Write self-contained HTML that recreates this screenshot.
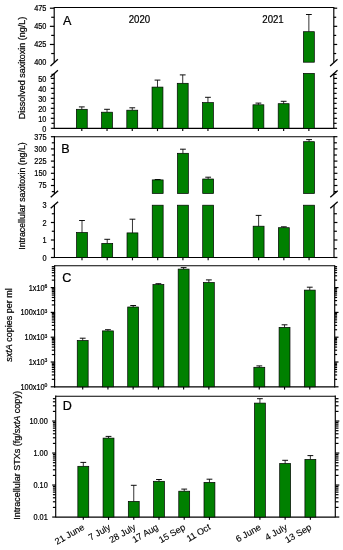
<!DOCTYPE html>
<html><head><meta charset="utf-8"><title>Figure</title>
<style>
html,body{margin:0;padding:0;background:#fff;}
svg{display:block;font-family:"Liberation Sans",sans-serif;fill:#111;}
svg text{fill:#000;stroke:#000;stroke-width:0.22px;}
</style></head><body>
<svg width="343" height="550" viewBox="0 0 343 550">
<rect x="0" y="0" width="343" height="550" fill="#ffffff"/>
<g transform="translate(0 0)">
<line x1="54.20" y1="7.45" x2="333.80" y2="7.45" stroke="#000" stroke-width="1.15"/>
<line x1="54.20" y1="128.30" x2="333.80" y2="128.30" stroke="#000" stroke-width="1.15"/>
<line x1="54.20" y1="6.88" x2="54.20" y2="62.60" stroke="#000" stroke-width="1.15"/>
<line x1="54.20" y1="73.40" x2="54.20" y2="128.88" stroke="#000" stroke-width="1.15"/>
<line x1="50.50" y1="65.90" x2="57.90" y2="59.30" stroke="#000" stroke-width="1.3"/>
<line x1="50.50" y1="76.90" x2="57.90" y2="70.30" stroke="#000" stroke-width="1.3"/>
<line x1="333.80" y1="6.88" x2="333.80" y2="62.60" stroke="#000" stroke-width="1.15"/>
<line x1="333.80" y1="73.40" x2="333.80" y2="128.88" stroke="#000" stroke-width="1.15"/>
<line x1="330.10" y1="65.90" x2="337.50" y2="59.30" stroke="#000" stroke-width="1.3"/>
<line x1="330.10" y1="76.90" x2="337.50" y2="70.30" stroke="#000" stroke-width="1.3"/>
<line x1="49.90" y1="8.20" x2="54.20" y2="8.20" stroke="#000" stroke-width="1.2"/>
<line x1="333.80" y1="8.20" x2="337.20" y2="8.20" stroke="#000" stroke-width="1.2"/>
<line x1="49.90" y1="26.33" x2="54.20" y2="26.33" stroke="#000" stroke-width="1.2"/>
<line x1="333.80" y1="26.33" x2="337.20" y2="26.33" stroke="#000" stroke-width="1.2"/>
<line x1="49.90" y1="44.47" x2="54.20" y2="44.47" stroke="#000" stroke-width="1.2"/>
<line x1="333.80" y1="44.47" x2="337.20" y2="44.47" stroke="#000" stroke-width="1.2"/>
<line x1="51.20" y1="17.27" x2="54.20" y2="17.27" stroke="#000" stroke-width="1.2"/>
<line x1="333.80" y1="17.27" x2="336.20" y2="17.27" stroke="#000" stroke-width="1.2"/>
<line x1="51.20" y1="35.40" x2="54.20" y2="35.40" stroke="#000" stroke-width="1.2"/>
<line x1="333.80" y1="35.40" x2="336.20" y2="35.40" stroke="#000" stroke-width="1.2"/>
<line x1="51.20" y1="53.53" x2="54.20" y2="53.53" stroke="#000" stroke-width="1.2"/>
<line x1="333.80" y1="53.53" x2="336.20" y2="53.53" stroke="#000" stroke-width="1.2"/>
<line x1="50.80" y1="128.30" x2="54.20" y2="128.30" stroke="#000" stroke-width="1.2"/>
<line x1="333.80" y1="128.30" x2="337.10" y2="128.30" stroke="#000" stroke-width="1.2"/>
<line x1="50.80" y1="118.32" x2="54.20" y2="118.32" stroke="#000" stroke-width="1.2"/>
<line x1="333.80" y1="118.32" x2="337.10" y2="118.32" stroke="#000" stroke-width="1.2"/>
<line x1="50.80" y1="108.34" x2="54.20" y2="108.34" stroke="#000" stroke-width="1.2"/>
<line x1="333.80" y1="108.34" x2="337.10" y2="108.34" stroke="#000" stroke-width="1.2"/>
<line x1="50.80" y1="98.35" x2="54.20" y2="98.35" stroke="#000" stroke-width="1.2"/>
<line x1="333.80" y1="98.35" x2="337.10" y2="98.35" stroke="#000" stroke-width="1.2"/>
<line x1="50.80" y1="88.37" x2="54.20" y2="88.37" stroke="#000" stroke-width="1.2"/>
<line x1="333.80" y1="88.37" x2="337.10" y2="88.37" stroke="#000" stroke-width="1.2"/>
<line x1="50.80" y1="78.39" x2="54.20" y2="78.39" stroke="#000" stroke-width="1.2"/>
<line x1="333.80" y1="78.39" x2="337.10" y2="78.39" stroke="#000" stroke-width="1.2"/>
<line x1="51.50" y1="123.31" x2="54.20" y2="123.31" stroke="#000" stroke-width="1.2"/>
<line x1="333.80" y1="123.31" x2="336.60" y2="123.31" stroke="#000" stroke-width="1.2"/>
<line x1="51.50" y1="113.33" x2="54.20" y2="113.33" stroke="#000" stroke-width="1.2"/>
<line x1="333.80" y1="113.33" x2="336.60" y2="113.33" stroke="#000" stroke-width="1.2"/>
<line x1="51.50" y1="103.35" x2="54.20" y2="103.35" stroke="#000" stroke-width="1.2"/>
<line x1="333.80" y1="103.35" x2="336.60" y2="103.35" stroke="#000" stroke-width="1.2"/>
<line x1="51.50" y1="93.36" x2="54.20" y2="93.36" stroke="#000" stroke-width="1.2"/>
<line x1="333.80" y1="93.36" x2="336.60" y2="93.36" stroke="#000" stroke-width="1.2"/>
<line x1="51.50" y1="83.38" x2="54.20" y2="83.38" stroke="#000" stroke-width="1.2"/>
<line x1="333.80" y1="83.38" x2="336.60" y2="83.38" stroke="#000" stroke-width="1.2"/>
<line x1="51.50" y1="74.40" x2="54.20" y2="74.40" stroke="#000" stroke-width="1.2"/>
<line x1="333.80" y1="74.40" x2="336.60" y2="74.40" stroke="#000" stroke-width="1.2"/>
<text transform="translate(46.40,11.12) scale(0.9,1)" font-size="8.17" text-anchor="end">475</text>
<text transform="translate(46.40,29.26) scale(0.9,1)" font-size="8.17" text-anchor="end">450</text>
<text transform="translate(46.40,47.39) scale(0.9,1)" font-size="8.17" text-anchor="end">425</text>
<text transform="translate(46.40,65.12) scale(0.9,1)" font-size="8.17" text-anchor="end">400</text>
<text transform="translate(46.40,131.62) scale(0.9,1)" font-size="8.17" text-anchor="end">0</text>
<text transform="translate(46.40,121.64) scale(0.9,1)" font-size="8.17" text-anchor="end">10</text>
<text transform="translate(46.40,111.66) scale(0.9,1)" font-size="8.17" text-anchor="end">20</text>
<text transform="translate(46.40,101.68) scale(0.9,1)" font-size="8.17" text-anchor="end">30</text>
<text transform="translate(46.40,91.70) scale(0.9,1)" font-size="8.17" text-anchor="end">40</text>
<text transform="translate(46.40,81.71) scale(0.9,1)" font-size="8.17" text-anchor="end">50</text>
<line x1="81.80" y1="128.30" x2="81.80" y2="131.10" stroke="#000" stroke-width="1.15"/>
<line x1="107.03" y1="128.30" x2="107.03" y2="131.10" stroke="#000" stroke-width="1.15"/>
<line x1="132.26" y1="128.30" x2="132.26" y2="131.10" stroke="#000" stroke-width="1.15"/>
<line x1="157.49" y1="128.30" x2="157.49" y2="131.10" stroke="#000" stroke-width="1.15"/>
<line x1="182.72" y1="128.30" x2="182.72" y2="131.10" stroke="#000" stroke-width="1.15"/>
<line x1="207.95" y1="128.30" x2="207.95" y2="131.10" stroke="#000" stroke-width="1.15"/>
<line x1="258.41" y1="128.30" x2="258.41" y2="131.10" stroke="#000" stroke-width="1.15"/>
<line x1="283.64" y1="128.30" x2="283.64" y2="131.10" stroke="#000" stroke-width="1.15"/>
<line x1="308.87" y1="128.30" x2="308.87" y2="131.10" stroke="#000" stroke-width="1.15"/>
<line x1="81.80" y1="109.30" x2="81.80" y2="106.90" stroke="#000" stroke-width="0.8"/>
<line x1="78.90" y1="106.90" x2="84.70" y2="106.90" stroke="#000" stroke-width="0.95"/>
<rect x="76.35" y="109.30" width="10.90" height="19.00" fill="#008000" stroke="#000" stroke-width="0.7"/>
<line x1="107.03" y1="112.20" x2="107.03" y2="109.30" stroke="#000" stroke-width="0.8"/>
<line x1="104.13" y1="109.30" x2="109.93" y2="109.30" stroke="#000" stroke-width="0.95"/>
<rect x="101.58" y="112.20" width="10.90" height="16.10" fill="#008000" stroke="#000" stroke-width="0.7"/>
<line x1="132.26" y1="110.20" x2="132.26" y2="107.80" stroke="#000" stroke-width="0.8"/>
<line x1="129.36" y1="107.80" x2="135.16" y2="107.80" stroke="#000" stroke-width="0.95"/>
<rect x="126.81" y="110.20" width="10.90" height="18.10" fill="#008000" stroke="#000" stroke-width="0.7"/>
<line x1="157.49" y1="87.10" x2="157.49" y2="80.10" stroke="#000" stroke-width="0.8"/>
<line x1="154.59" y1="80.10" x2="160.39" y2="80.10" stroke="#000" stroke-width="0.95"/>
<rect x="152.04" y="87.10" width="10.90" height="41.20" fill="#008000" stroke="#000" stroke-width="0.7"/>
<line x1="182.72" y1="83.30" x2="182.72" y2="74.90" stroke="#000" stroke-width="0.8"/>
<line x1="179.82" y1="74.90" x2="185.62" y2="74.90" stroke="#000" stroke-width="0.95"/>
<rect x="177.27" y="83.30" width="10.90" height="45.00" fill="#008000" stroke="#000" stroke-width="0.7"/>
<line x1="207.95" y1="102.60" x2="207.95" y2="97.30" stroke="#000" stroke-width="0.8"/>
<line x1="205.05" y1="97.30" x2="210.85" y2="97.30" stroke="#000" stroke-width="0.95"/>
<rect x="202.50" y="102.60" width="10.90" height="25.70" fill="#008000" stroke="#000" stroke-width="0.7"/>
<line x1="258.41" y1="104.80" x2="258.41" y2="103.10" stroke="#000" stroke-width="0.8"/>
<line x1="255.51" y1="103.10" x2="261.31" y2="103.10" stroke="#000" stroke-width="0.95"/>
<rect x="252.96" y="104.80" width="10.90" height="23.50" fill="#008000" stroke="#000" stroke-width="0.7"/>
<line x1="283.64" y1="103.70" x2="283.64" y2="101.30" stroke="#000" stroke-width="0.8"/>
<line x1="280.74" y1="101.30" x2="286.54" y2="101.30" stroke="#000" stroke-width="0.95"/>
<rect x="278.19" y="103.70" width="10.90" height="24.60" fill="#008000" stroke="#000" stroke-width="0.7"/>
<line x1="308.87" y1="31.70" x2="308.87" y2="14.50" stroke="#000" stroke-width="0.8"/>
<line x1="305.97" y1="14.50" x2="311.77" y2="14.50" stroke="#000" stroke-width="0.95"/>
<rect x="303.42" y="31.70" width="10.90" height="30.50" fill="#008000" stroke="#000" stroke-width="0.7"/>
<rect x="303.42" y="73.40" width="10.90" height="54.90" fill="#008000" stroke="#000" stroke-width="0.7"/>
</g>
<text x="63.10" y="24.60" font-size="12.6" text-anchor="start">A</text>
<text transform="translate(139.4,23.0) scale(0.91,1)" font-size="10.6" text-anchor="middle">2020</text>
<text transform="translate(273.0,23.0) scale(0.91,1)" font-size="10.6" text-anchor="middle">2021</text>
<text transform="translate(25.00,68.00) rotate(-90)" font-size="9.0" text-anchor="middle">Dissolved saxitoxin (ng/L)</text>
<g transform="translate(0.2 0)">
<line x1="54.20" y1="136.70" x2="333.80" y2="136.70" stroke="#000" stroke-width="1.15"/>
<line x1="54.20" y1="257.50" x2="333.80" y2="257.50" stroke="#000" stroke-width="1.15"/>
<line x1="54.20" y1="136.12" x2="54.20" y2="194.00" stroke="#000" stroke-width="1.15"/>
<line x1="54.20" y1="205.00" x2="54.20" y2="258.07" stroke="#000" stroke-width="1.15"/>
<line x1="50.50" y1="197.30" x2="57.90" y2="190.70" stroke="#000" stroke-width="1.3"/>
<line x1="50.50" y1="208.30" x2="57.90" y2="201.70" stroke="#000" stroke-width="1.3"/>
<line x1="333.80" y1="136.12" x2="333.80" y2="194.00" stroke="#000" stroke-width="1.15"/>
<line x1="333.80" y1="205.00" x2="333.80" y2="258.07" stroke="#000" stroke-width="1.15"/>
<line x1="330.10" y1="197.30" x2="337.50" y2="190.70" stroke="#000" stroke-width="1.3"/>
<line x1="330.10" y1="208.30" x2="337.50" y2="201.70" stroke="#000" stroke-width="1.3"/>
<line x1="50.70" y1="136.70" x2="54.20" y2="136.70" stroke="#000" stroke-width="1.2"/>
<line x1="333.80" y1="136.70" x2="337.20" y2="136.70" stroke="#000" stroke-width="1.2"/>
<line x1="50.70" y1="148.90" x2="54.20" y2="148.90" stroke="#000" stroke-width="1.2"/>
<line x1="333.80" y1="148.90" x2="337.20" y2="148.90" stroke="#000" stroke-width="1.2"/>
<line x1="50.70" y1="161.10" x2="54.20" y2="161.10" stroke="#000" stroke-width="1.2"/>
<line x1="333.80" y1="161.10" x2="337.20" y2="161.10" stroke="#000" stroke-width="1.2"/>
<line x1="50.70" y1="173.30" x2="54.20" y2="173.30" stroke="#000" stroke-width="1.2"/>
<line x1="333.80" y1="173.30" x2="337.20" y2="173.30" stroke="#000" stroke-width="1.2"/>
<line x1="50.70" y1="185.50" x2="54.20" y2="185.50" stroke="#000" stroke-width="1.2"/>
<line x1="333.80" y1="185.50" x2="337.20" y2="185.50" stroke="#000" stroke-width="1.2"/>
<line x1="50.70" y1="257.50" x2="54.20" y2="257.50" stroke="#000" stroke-width="1.2"/>
<line x1="333.80" y1="257.50" x2="337.20" y2="257.50" stroke="#000" stroke-width="1.2"/>
<line x1="50.70" y1="240.00" x2="54.20" y2="240.00" stroke="#000" stroke-width="1.2"/>
<line x1="333.80" y1="240.00" x2="337.20" y2="240.00" stroke="#000" stroke-width="1.2"/>
<line x1="50.70" y1="222.50" x2="54.20" y2="222.50" stroke="#000" stroke-width="1.2"/>
<line x1="333.80" y1="222.50" x2="337.20" y2="222.50" stroke="#000" stroke-width="1.2"/>
<line x1="51.60" y1="142.80" x2="54.20" y2="142.80" stroke="#000" stroke-width="1.2"/>
<line x1="333.80" y1="142.80" x2="336.70" y2="142.80" stroke="#000" stroke-width="1.2"/>
<line x1="51.60" y1="155.00" x2="54.20" y2="155.00" stroke="#000" stroke-width="1.2"/>
<line x1="333.80" y1="155.00" x2="336.70" y2="155.00" stroke="#000" stroke-width="1.2"/>
<line x1="51.60" y1="167.20" x2="54.20" y2="167.20" stroke="#000" stroke-width="1.2"/>
<line x1="333.80" y1="167.20" x2="336.70" y2="167.20" stroke="#000" stroke-width="1.2"/>
<line x1="51.60" y1="179.40" x2="54.20" y2="179.40" stroke="#000" stroke-width="1.2"/>
<line x1="333.80" y1="179.40" x2="336.70" y2="179.40" stroke="#000" stroke-width="1.2"/>
<line x1="51.60" y1="191.60" x2="54.20" y2="191.60" stroke="#000" stroke-width="1.2"/>
<line x1="333.80" y1="191.60" x2="336.70" y2="191.60" stroke="#000" stroke-width="1.2"/>
<line x1="51.60" y1="248.75" x2="54.20" y2="248.75" stroke="#000" stroke-width="1.2"/>
<line x1="333.80" y1="248.75" x2="336.70" y2="248.75" stroke="#000" stroke-width="1.2"/>
<line x1="51.60" y1="231.25" x2="54.20" y2="231.25" stroke="#000" stroke-width="1.2"/>
<line x1="333.80" y1="231.25" x2="336.70" y2="231.25" stroke="#000" stroke-width="1.2"/>
<line x1="51.60" y1="213.75" x2="54.20" y2="213.75" stroke="#000" stroke-width="1.2"/>
<line x1="333.80" y1="213.75" x2="336.70" y2="213.75" stroke="#000" stroke-width="1.2"/>
<text transform="translate(46.40,139.62) scale(0.9,1)" font-size="8.17" text-anchor="end">375</text>
<text transform="translate(46.40,151.82) scale(0.9,1)" font-size="8.17" text-anchor="end">300</text>
<text transform="translate(46.40,164.02) scale(0.9,1)" font-size="8.17" text-anchor="end">225</text>
<text transform="translate(46.40,176.22) scale(0.9,1)" font-size="8.17" text-anchor="end">150</text>
<text transform="translate(46.40,188.42) scale(0.9,1)" font-size="8.17" text-anchor="end">75</text>
<text transform="translate(46.40,260.82) scale(0.9,1)" font-size="8.17" text-anchor="end">0</text>
<text transform="translate(46.40,243.32) scale(0.9,1)" font-size="8.17" text-anchor="end">1</text>
<text transform="translate(46.40,225.82) scale(0.9,1)" font-size="8.17" text-anchor="end">2</text>
<text transform="translate(46.40,208.32) scale(0.9,1)" font-size="8.17" text-anchor="end">3</text>
<line x1="81.80" y1="257.50" x2="81.80" y2="260.30" stroke="#000" stroke-width="1.15"/>
<line x1="107.03" y1="257.50" x2="107.03" y2="260.30" stroke="#000" stroke-width="1.15"/>
<line x1="132.26" y1="257.50" x2="132.26" y2="260.30" stroke="#000" stroke-width="1.15"/>
<line x1="157.49" y1="257.50" x2="157.49" y2="260.30" stroke="#000" stroke-width="1.15"/>
<line x1="182.72" y1="257.50" x2="182.72" y2="260.30" stroke="#000" stroke-width="1.15"/>
<line x1="207.95" y1="257.50" x2="207.95" y2="260.30" stroke="#000" stroke-width="1.15"/>
<line x1="258.41" y1="257.50" x2="258.41" y2="260.30" stroke="#000" stroke-width="1.15"/>
<line x1="283.64" y1="257.50" x2="283.64" y2="260.30" stroke="#000" stroke-width="1.15"/>
<line x1="308.87" y1="257.50" x2="308.87" y2="260.30" stroke="#000" stroke-width="1.15"/>
<line x1="81.80" y1="232.50" x2="81.80" y2="220.50" stroke="#000" stroke-width="0.8"/>
<line x1="78.90" y1="220.50" x2="84.70" y2="220.50" stroke="#000" stroke-width="0.95"/>
<rect x="76.35" y="232.50" width="10.90" height="25.00" fill="#008000" stroke="#000" stroke-width="0.7"/>
<line x1="107.03" y1="243.40" x2="107.03" y2="239.30" stroke="#000" stroke-width="0.8"/>
<line x1="104.13" y1="239.30" x2="109.93" y2="239.30" stroke="#000" stroke-width="0.95"/>
<rect x="101.58" y="243.40" width="10.90" height="14.10" fill="#008000" stroke="#000" stroke-width="0.7"/>
<line x1="132.26" y1="232.90" x2="132.26" y2="219.20" stroke="#000" stroke-width="0.8"/>
<line x1="129.36" y1="219.20" x2="135.16" y2="219.20" stroke="#000" stroke-width="0.95"/>
<rect x="126.81" y="232.90" width="10.90" height="24.60" fill="#008000" stroke="#000" stroke-width="0.7"/>
<line x1="258.41" y1="226.20" x2="258.41" y2="215.40" stroke="#000" stroke-width="0.8"/>
<line x1="255.51" y1="215.40" x2="261.31" y2="215.40" stroke="#000" stroke-width="0.95"/>
<rect x="252.96" y="226.20" width="10.90" height="31.30" fill="#008000" stroke="#000" stroke-width="0.7"/>
<line x1="283.64" y1="227.70" x2="283.64" y2="226.80" stroke="#000" stroke-width="0.8"/>
<line x1="280.74" y1="226.80" x2="286.54" y2="226.80" stroke="#000" stroke-width="0.95"/>
<rect x="278.19" y="227.70" width="10.90" height="29.80" fill="#008000" stroke="#000" stroke-width="0.7"/>
<line x1="157.49" y1="179.90" x2="157.49" y2="179.50" stroke="#000" stroke-width="0.8"/>
<line x1="154.59" y1="179.50" x2="160.39" y2="179.50" stroke="#000" stroke-width="0.95"/>
<rect x="152.04" y="179.90" width="10.90" height="13.60" fill="#008000" stroke="#000" stroke-width="0.7"/>
<rect x="152.04" y="205.20" width="10.90" height="52.30" fill="#008000" stroke="#000" stroke-width="0.7"/>
<line x1="182.72" y1="153.30" x2="182.72" y2="149.20" stroke="#000" stroke-width="0.8"/>
<line x1="179.82" y1="149.20" x2="185.62" y2="149.20" stroke="#000" stroke-width="0.95"/>
<rect x="177.27" y="153.30" width="10.90" height="40.20" fill="#008000" stroke="#000" stroke-width="0.7"/>
<rect x="177.27" y="205.20" width="10.90" height="52.30" fill="#008000" stroke="#000" stroke-width="0.7"/>
<line x1="207.95" y1="179.00" x2="207.95" y2="177.20" stroke="#000" stroke-width="0.8"/>
<line x1="205.05" y1="177.20" x2="210.85" y2="177.20" stroke="#000" stroke-width="0.95"/>
<rect x="202.50" y="179.00" width="10.90" height="14.50" fill="#008000" stroke="#000" stroke-width="0.7"/>
<rect x="202.50" y="205.20" width="10.90" height="52.30" fill="#008000" stroke="#000" stroke-width="0.7"/>
<line x1="308.87" y1="141.70" x2="308.87" y2="139.60" stroke="#000" stroke-width="0.8"/>
<line x1="305.97" y1="139.60" x2="311.77" y2="139.60" stroke="#000" stroke-width="0.95"/>
<rect x="303.42" y="141.70" width="10.90" height="51.80" fill="#008000" stroke="#000" stroke-width="0.7"/>
<rect x="303.42" y="205.20" width="10.90" height="52.30" fill="#008000" stroke="#000" stroke-width="0.7"/>
</g>
<text x="61.30" y="152.80" font-size="12.6" text-anchor="start">B</text>
<text transform="translate(25.40,196.00) rotate(-90)" font-size="8.8" text-anchor="middle">Intracellular saxitoxin (ng/L)</text>
<g transform="translate(0.9 0)">
<line x1="53.70" y1="265.75" x2="333.80" y2="265.75" stroke="#000" stroke-width="1.15"/>
<line x1="53.70" y1="386.80" x2="333.80" y2="386.80" stroke="#000" stroke-width="1.15"/>
<line x1="53.70" y1="265.18" x2="53.70" y2="387.38" stroke="#000" stroke-width="1.15"/>
<line x1="333.80" y1="265.18" x2="333.80" y2="387.38" stroke="#000" stroke-width="1.15"/>
<line x1="49.80" y1="386.80" x2="54.20" y2="386.80" stroke="#000" stroke-width="1.2"/>
<line x1="333.80" y1="386.80" x2="337.60" y2="386.80" stroke="#000" stroke-width="1.2"/>
<line x1="49.80" y1="362.00" x2="54.20" y2="362.00" stroke="#000" stroke-width="1.2"/>
<line x1="333.80" y1="362.00" x2="337.60" y2="362.00" stroke="#000" stroke-width="1.2"/>
<line x1="49.80" y1="337.20" x2="54.20" y2="337.20" stroke="#000" stroke-width="1.2"/>
<line x1="333.80" y1="337.20" x2="337.60" y2="337.20" stroke="#000" stroke-width="1.2"/>
<line x1="49.80" y1="312.40" x2="54.20" y2="312.40" stroke="#000" stroke-width="1.2"/>
<line x1="333.80" y1="312.40" x2="337.60" y2="312.40" stroke="#000" stroke-width="1.2"/>
<line x1="49.80" y1="287.60" x2="54.20" y2="287.60" stroke="#000" stroke-width="1.2"/>
<line x1="333.80" y1="287.60" x2="337.60" y2="287.60" stroke="#000" stroke-width="1.2"/>
<line x1="50.90" y1="379.33" x2="54.20" y2="379.33" stroke="#000" stroke-width="1.2"/>
<line x1="333.80" y1="379.33" x2="336.20" y2="379.33" stroke="#000" stroke-width="1.2"/>
<line x1="50.90" y1="374.97" x2="54.20" y2="374.97" stroke="#000" stroke-width="1.2"/>
<line x1="333.80" y1="374.97" x2="336.20" y2="374.97" stroke="#000" stroke-width="1.2"/>
<line x1="50.90" y1="371.87" x2="54.20" y2="371.87" stroke="#000" stroke-width="1.2"/>
<line x1="333.80" y1="371.87" x2="336.20" y2="371.87" stroke="#000" stroke-width="1.2"/>
<line x1="50.90" y1="369.47" x2="54.20" y2="369.47" stroke="#000" stroke-width="1.2"/>
<line x1="333.80" y1="369.47" x2="336.20" y2="369.47" stroke="#000" stroke-width="1.2"/>
<line x1="50.90" y1="367.50" x2="54.20" y2="367.50" stroke="#000" stroke-width="1.2"/>
<line x1="333.80" y1="367.50" x2="336.20" y2="367.50" stroke="#000" stroke-width="1.2"/>
<line x1="50.90" y1="365.84" x2="54.20" y2="365.84" stroke="#000" stroke-width="1.2"/>
<line x1="333.80" y1="365.84" x2="336.20" y2="365.84" stroke="#000" stroke-width="1.2"/>
<line x1="50.90" y1="364.40" x2="54.20" y2="364.40" stroke="#000" stroke-width="1.2"/>
<line x1="333.80" y1="364.40" x2="336.20" y2="364.40" stroke="#000" stroke-width="1.2"/>
<line x1="50.90" y1="363.13" x2="54.20" y2="363.13" stroke="#000" stroke-width="1.2"/>
<line x1="333.80" y1="363.13" x2="336.20" y2="363.13" stroke="#000" stroke-width="1.2"/>
<line x1="50.90" y1="354.53" x2="54.20" y2="354.53" stroke="#000" stroke-width="1.2"/>
<line x1="333.80" y1="354.53" x2="336.20" y2="354.53" stroke="#000" stroke-width="1.2"/>
<line x1="50.90" y1="350.17" x2="54.20" y2="350.17" stroke="#000" stroke-width="1.2"/>
<line x1="333.80" y1="350.17" x2="336.20" y2="350.17" stroke="#000" stroke-width="1.2"/>
<line x1="50.90" y1="347.07" x2="54.20" y2="347.07" stroke="#000" stroke-width="1.2"/>
<line x1="333.80" y1="347.07" x2="336.20" y2="347.07" stroke="#000" stroke-width="1.2"/>
<line x1="50.90" y1="344.67" x2="54.20" y2="344.67" stroke="#000" stroke-width="1.2"/>
<line x1="333.80" y1="344.67" x2="336.20" y2="344.67" stroke="#000" stroke-width="1.2"/>
<line x1="50.90" y1="342.70" x2="54.20" y2="342.70" stroke="#000" stroke-width="1.2"/>
<line x1="333.80" y1="342.70" x2="336.20" y2="342.70" stroke="#000" stroke-width="1.2"/>
<line x1="50.90" y1="341.04" x2="54.20" y2="341.04" stroke="#000" stroke-width="1.2"/>
<line x1="333.80" y1="341.04" x2="336.20" y2="341.04" stroke="#000" stroke-width="1.2"/>
<line x1="50.90" y1="339.60" x2="54.20" y2="339.60" stroke="#000" stroke-width="1.2"/>
<line x1="333.80" y1="339.60" x2="336.20" y2="339.60" stroke="#000" stroke-width="1.2"/>
<line x1="50.90" y1="338.33" x2="54.20" y2="338.33" stroke="#000" stroke-width="1.2"/>
<line x1="333.80" y1="338.33" x2="336.20" y2="338.33" stroke="#000" stroke-width="1.2"/>
<line x1="50.90" y1="329.73" x2="54.20" y2="329.73" stroke="#000" stroke-width="1.2"/>
<line x1="333.80" y1="329.73" x2="336.20" y2="329.73" stroke="#000" stroke-width="1.2"/>
<line x1="50.90" y1="325.37" x2="54.20" y2="325.37" stroke="#000" stroke-width="1.2"/>
<line x1="333.80" y1="325.37" x2="336.20" y2="325.37" stroke="#000" stroke-width="1.2"/>
<line x1="50.90" y1="322.27" x2="54.20" y2="322.27" stroke="#000" stroke-width="1.2"/>
<line x1="333.80" y1="322.27" x2="336.20" y2="322.27" stroke="#000" stroke-width="1.2"/>
<line x1="50.90" y1="319.87" x2="54.20" y2="319.87" stroke="#000" stroke-width="1.2"/>
<line x1="333.80" y1="319.87" x2="336.20" y2="319.87" stroke="#000" stroke-width="1.2"/>
<line x1="50.90" y1="317.90" x2="54.20" y2="317.90" stroke="#000" stroke-width="1.2"/>
<line x1="333.80" y1="317.90" x2="336.20" y2="317.90" stroke="#000" stroke-width="1.2"/>
<line x1="50.90" y1="316.24" x2="54.20" y2="316.24" stroke="#000" stroke-width="1.2"/>
<line x1="333.80" y1="316.24" x2="336.20" y2="316.24" stroke="#000" stroke-width="1.2"/>
<line x1="50.90" y1="314.80" x2="54.20" y2="314.80" stroke="#000" stroke-width="1.2"/>
<line x1="333.80" y1="314.80" x2="336.20" y2="314.80" stroke="#000" stroke-width="1.2"/>
<line x1="50.90" y1="313.53" x2="54.20" y2="313.53" stroke="#000" stroke-width="1.2"/>
<line x1="333.80" y1="313.53" x2="336.20" y2="313.53" stroke="#000" stroke-width="1.2"/>
<line x1="50.90" y1="304.93" x2="54.20" y2="304.93" stroke="#000" stroke-width="1.2"/>
<line x1="333.80" y1="304.93" x2="336.20" y2="304.93" stroke="#000" stroke-width="1.2"/>
<line x1="50.90" y1="300.57" x2="54.20" y2="300.57" stroke="#000" stroke-width="1.2"/>
<line x1="333.80" y1="300.57" x2="336.20" y2="300.57" stroke="#000" stroke-width="1.2"/>
<line x1="50.90" y1="297.47" x2="54.20" y2="297.47" stroke="#000" stroke-width="1.2"/>
<line x1="333.80" y1="297.47" x2="336.20" y2="297.47" stroke="#000" stroke-width="1.2"/>
<line x1="50.90" y1="295.07" x2="54.20" y2="295.07" stroke="#000" stroke-width="1.2"/>
<line x1="333.80" y1="295.07" x2="336.20" y2="295.07" stroke="#000" stroke-width="1.2"/>
<line x1="50.90" y1="293.10" x2="54.20" y2="293.10" stroke="#000" stroke-width="1.2"/>
<line x1="333.80" y1="293.10" x2="336.20" y2="293.10" stroke="#000" stroke-width="1.2"/>
<line x1="50.90" y1="291.44" x2="54.20" y2="291.44" stroke="#000" stroke-width="1.2"/>
<line x1="333.80" y1="291.44" x2="336.20" y2="291.44" stroke="#000" stroke-width="1.2"/>
<line x1="50.90" y1="290.00" x2="54.20" y2="290.00" stroke="#000" stroke-width="1.2"/>
<line x1="333.80" y1="290.00" x2="336.20" y2="290.00" stroke="#000" stroke-width="1.2"/>
<line x1="50.90" y1="288.73" x2="54.20" y2="288.73" stroke="#000" stroke-width="1.2"/>
<line x1="333.80" y1="288.73" x2="336.20" y2="288.73" stroke="#000" stroke-width="1.2"/>
<line x1="50.90" y1="280.13" x2="54.20" y2="280.13" stroke="#000" stroke-width="1.2"/>
<line x1="333.80" y1="280.13" x2="336.20" y2="280.13" stroke="#000" stroke-width="1.2"/>
<line x1="50.90" y1="275.77" x2="54.20" y2="275.77" stroke="#000" stroke-width="1.2"/>
<line x1="333.80" y1="275.77" x2="336.20" y2="275.77" stroke="#000" stroke-width="1.2"/>
<line x1="50.90" y1="272.67" x2="54.20" y2="272.67" stroke="#000" stroke-width="1.2"/>
<line x1="333.80" y1="272.67" x2="336.20" y2="272.67" stroke="#000" stroke-width="1.2"/>
<line x1="50.90" y1="270.27" x2="54.20" y2="270.27" stroke="#000" stroke-width="1.2"/>
<line x1="333.80" y1="270.27" x2="336.20" y2="270.27" stroke="#000" stroke-width="1.2"/>
<line x1="50.90" y1="268.30" x2="54.20" y2="268.30" stroke="#000" stroke-width="1.2"/>
<line x1="333.80" y1="268.30" x2="336.20" y2="268.30" stroke="#000" stroke-width="1.2"/>
<line x1="50.90" y1="266.64" x2="54.20" y2="266.64" stroke="#000" stroke-width="1.2"/>
<line x1="333.80" y1="266.64" x2="336.20" y2="266.64" stroke="#000" stroke-width="1.2"/>
<text transform="translate(46.5,290.52) scale(0.9,1)" font-size="8.17" text-anchor="end">1x10<tspan font-size="5.6" dy="-2.6">6</tspan></text>
<text transform="translate(46.5,315.32) scale(0.9,1)" font-size="8.17" text-anchor="end">100x10<tspan font-size="5.6" dy="-2.6">3</tspan></text>
<text transform="translate(46.5,340.12) scale(0.9,1)" font-size="8.17" text-anchor="end">10x10<tspan font-size="5.6" dy="-2.6">3</tspan></text>
<text transform="translate(46.5,364.92) scale(0.9,1)" font-size="8.17" text-anchor="end">1x10<tspan font-size="5.6" dy="-2.6">3</tspan></text>
<text transform="translate(46.5,389.72) scale(0.9,1)" font-size="8.17" text-anchor="end">100x10<tspan font-size="5.6" dy="-2.6">0</tspan></text>
<line x1="81.80" y1="386.80" x2="81.80" y2="389.60" stroke="#000" stroke-width="1.15"/>
<line x1="107.03" y1="386.80" x2="107.03" y2="389.60" stroke="#000" stroke-width="1.15"/>
<line x1="132.26" y1="386.80" x2="132.26" y2="389.60" stroke="#000" stroke-width="1.15"/>
<line x1="157.49" y1="386.80" x2="157.49" y2="389.60" stroke="#000" stroke-width="1.15"/>
<line x1="182.72" y1="386.80" x2="182.72" y2="389.60" stroke="#000" stroke-width="1.15"/>
<line x1="207.95" y1="386.80" x2="207.95" y2="389.60" stroke="#000" stroke-width="1.15"/>
<line x1="258.41" y1="386.80" x2="258.41" y2="389.60" stroke="#000" stroke-width="1.15"/>
<line x1="283.64" y1="386.80" x2="283.64" y2="389.60" stroke="#000" stroke-width="1.15"/>
<line x1="308.87" y1="386.80" x2="308.87" y2="389.60" stroke="#000" stroke-width="1.15"/>
<line x1="81.80" y1="340.50" x2="81.80" y2="338.20" stroke="#000" stroke-width="0.8"/>
<line x1="78.90" y1="338.20" x2="84.70" y2="338.20" stroke="#000" stroke-width="0.95"/>
<rect x="76.35" y="340.50" width="10.90" height="46.30" fill="#008000" stroke="#000" stroke-width="0.7"/>
<line x1="107.03" y1="330.90" x2="107.03" y2="329.70" stroke="#000" stroke-width="0.8"/>
<line x1="104.13" y1="329.70" x2="109.93" y2="329.70" stroke="#000" stroke-width="0.95"/>
<rect x="101.58" y="330.90" width="10.90" height="55.90" fill="#008000" stroke="#000" stroke-width="0.7"/>
<line x1="132.26" y1="307.00" x2="132.26" y2="305.50" stroke="#000" stroke-width="0.8"/>
<line x1="129.36" y1="305.50" x2="135.16" y2="305.50" stroke="#000" stroke-width="0.95"/>
<rect x="126.81" y="307.00" width="10.90" height="79.80" fill="#008000" stroke="#000" stroke-width="0.7"/>
<line x1="157.49" y1="284.60" x2="157.49" y2="283.70" stroke="#000" stroke-width="0.8"/>
<line x1="154.59" y1="283.70" x2="160.39" y2="283.70" stroke="#000" stroke-width="0.95"/>
<rect x="152.04" y="284.60" width="10.90" height="102.20" fill="#008000" stroke="#000" stroke-width="0.7"/>
<line x1="182.72" y1="269.10" x2="182.72" y2="267.60" stroke="#000" stroke-width="0.8"/>
<line x1="179.82" y1="267.60" x2="185.62" y2="267.60" stroke="#000" stroke-width="0.95"/>
<rect x="177.27" y="269.10" width="10.90" height="117.70" fill="#008000" stroke="#000" stroke-width="0.7"/>
<line x1="207.95" y1="282.50" x2="207.95" y2="279.90" stroke="#000" stroke-width="0.8"/>
<line x1="205.05" y1="279.90" x2="210.85" y2="279.90" stroke="#000" stroke-width="0.95"/>
<rect x="202.50" y="282.50" width="10.90" height="104.30" fill="#008000" stroke="#000" stroke-width="0.7"/>
<line x1="258.41" y1="367.30" x2="258.41" y2="365.90" stroke="#000" stroke-width="0.8"/>
<line x1="255.51" y1="365.90" x2="261.31" y2="365.90" stroke="#000" stroke-width="0.95"/>
<rect x="252.96" y="367.30" width="10.90" height="19.50" fill="#008000" stroke="#000" stroke-width="0.7"/>
<line x1="283.64" y1="327.40" x2="283.64" y2="324.80" stroke="#000" stroke-width="0.8"/>
<line x1="280.74" y1="324.80" x2="286.54" y2="324.80" stroke="#000" stroke-width="0.95"/>
<rect x="278.19" y="327.40" width="10.90" height="59.40" fill="#008000" stroke="#000" stroke-width="0.7"/>
<line x1="308.87" y1="290.10" x2="308.87" y2="287.20" stroke="#000" stroke-width="0.8"/>
<line x1="305.97" y1="287.20" x2="311.77" y2="287.20" stroke="#000" stroke-width="0.95"/>
<rect x="303.42" y="290.10" width="10.90" height="96.70" fill="#008000" stroke="#000" stroke-width="0.7"/>
</g>
<text x="62.20" y="282.30" font-size="12.6" text-anchor="start">C</text>
<text transform="translate(12.40,325.00) rotate(-90)" font-size="9.0" text-anchor="middle"><tspan font-style="italic">sxtA</tspan> copies per ml</text>
<g transform="translate(1.5 0)">
<line x1="54.20" y1="396.20" x2="333.80" y2="396.20" stroke="#000" stroke-width="1.15"/>
<line x1="54.20" y1="517.05" x2="333.80" y2="517.05" stroke="#000" stroke-width="1.15"/>
<line x1="54.20" y1="395.62" x2="54.20" y2="517.62" stroke="#000" stroke-width="1.15"/>
<line x1="333.80" y1="395.62" x2="333.80" y2="517.62" stroke="#000" stroke-width="1.15"/>
<line x1="50.70" y1="517.05" x2="54.20" y2="517.05" stroke="#000" stroke-width="1.2"/>
<line x1="333.80" y1="517.05" x2="337.80" y2="517.05" stroke="#000" stroke-width="1.2"/>
<line x1="50.70" y1="485.05" x2="54.20" y2="485.05" stroke="#000" stroke-width="1.2"/>
<line x1="333.80" y1="485.05" x2="337.80" y2="485.05" stroke="#000" stroke-width="1.2"/>
<line x1="50.70" y1="453.05" x2="54.20" y2="453.05" stroke="#000" stroke-width="1.2"/>
<line x1="333.80" y1="453.05" x2="337.80" y2="453.05" stroke="#000" stroke-width="1.2"/>
<line x1="50.70" y1="421.05" x2="54.20" y2="421.05" stroke="#000" stroke-width="1.2"/>
<line x1="333.80" y1="421.05" x2="337.80" y2="421.05" stroke="#000" stroke-width="1.2"/>
<line x1="51.40" y1="507.42" x2="54.20" y2="507.42" stroke="#000" stroke-width="1.2"/>
<line x1="333.80" y1="507.42" x2="337.00" y2="507.42" stroke="#000" stroke-width="1.2"/>
<line x1="51.40" y1="501.78" x2="54.20" y2="501.78" stroke="#000" stroke-width="1.2"/>
<line x1="333.80" y1="501.78" x2="337.00" y2="501.78" stroke="#000" stroke-width="1.2"/>
<line x1="51.40" y1="497.78" x2="54.20" y2="497.78" stroke="#000" stroke-width="1.2"/>
<line x1="333.80" y1="497.78" x2="337.00" y2="497.78" stroke="#000" stroke-width="1.2"/>
<line x1="51.40" y1="494.68" x2="54.20" y2="494.68" stroke="#000" stroke-width="1.2"/>
<line x1="333.80" y1="494.68" x2="337.00" y2="494.68" stroke="#000" stroke-width="1.2"/>
<line x1="51.40" y1="492.15" x2="54.20" y2="492.15" stroke="#000" stroke-width="1.2"/>
<line x1="333.80" y1="492.15" x2="337.00" y2="492.15" stroke="#000" stroke-width="1.2"/>
<line x1="51.40" y1="490.01" x2="54.20" y2="490.01" stroke="#000" stroke-width="1.2"/>
<line x1="333.80" y1="490.01" x2="337.00" y2="490.01" stroke="#000" stroke-width="1.2"/>
<line x1="51.40" y1="488.15" x2="54.20" y2="488.15" stroke="#000" stroke-width="1.2"/>
<line x1="333.80" y1="488.15" x2="337.00" y2="488.15" stroke="#000" stroke-width="1.2"/>
<line x1="51.40" y1="486.51" x2="54.20" y2="486.51" stroke="#000" stroke-width="1.2"/>
<line x1="333.80" y1="486.51" x2="337.00" y2="486.51" stroke="#000" stroke-width="1.2"/>
<line x1="51.40" y1="475.42" x2="54.20" y2="475.42" stroke="#000" stroke-width="1.2"/>
<line x1="333.80" y1="475.42" x2="337.00" y2="475.42" stroke="#000" stroke-width="1.2"/>
<line x1="51.40" y1="469.78" x2="54.20" y2="469.78" stroke="#000" stroke-width="1.2"/>
<line x1="333.80" y1="469.78" x2="337.00" y2="469.78" stroke="#000" stroke-width="1.2"/>
<line x1="51.40" y1="465.78" x2="54.20" y2="465.78" stroke="#000" stroke-width="1.2"/>
<line x1="333.80" y1="465.78" x2="337.00" y2="465.78" stroke="#000" stroke-width="1.2"/>
<line x1="51.40" y1="462.68" x2="54.20" y2="462.68" stroke="#000" stroke-width="1.2"/>
<line x1="333.80" y1="462.68" x2="337.00" y2="462.68" stroke="#000" stroke-width="1.2"/>
<line x1="51.40" y1="460.15" x2="54.20" y2="460.15" stroke="#000" stroke-width="1.2"/>
<line x1="333.80" y1="460.15" x2="337.00" y2="460.15" stroke="#000" stroke-width="1.2"/>
<line x1="51.40" y1="458.01" x2="54.20" y2="458.01" stroke="#000" stroke-width="1.2"/>
<line x1="333.80" y1="458.01" x2="337.00" y2="458.01" stroke="#000" stroke-width="1.2"/>
<line x1="51.40" y1="456.15" x2="54.20" y2="456.15" stroke="#000" stroke-width="1.2"/>
<line x1="333.80" y1="456.15" x2="337.00" y2="456.15" stroke="#000" stroke-width="1.2"/>
<line x1="51.40" y1="454.51" x2="54.20" y2="454.51" stroke="#000" stroke-width="1.2"/>
<line x1="333.80" y1="454.51" x2="337.00" y2="454.51" stroke="#000" stroke-width="1.2"/>
<line x1="51.40" y1="443.42" x2="54.20" y2="443.42" stroke="#000" stroke-width="1.2"/>
<line x1="333.80" y1="443.42" x2="337.00" y2="443.42" stroke="#000" stroke-width="1.2"/>
<line x1="51.40" y1="437.78" x2="54.20" y2="437.78" stroke="#000" stroke-width="1.2"/>
<line x1="333.80" y1="437.78" x2="337.00" y2="437.78" stroke="#000" stroke-width="1.2"/>
<line x1="51.40" y1="433.78" x2="54.20" y2="433.78" stroke="#000" stroke-width="1.2"/>
<line x1="333.80" y1="433.78" x2="337.00" y2="433.78" stroke="#000" stroke-width="1.2"/>
<line x1="51.40" y1="430.68" x2="54.20" y2="430.68" stroke="#000" stroke-width="1.2"/>
<line x1="333.80" y1="430.68" x2="337.00" y2="430.68" stroke="#000" stroke-width="1.2"/>
<line x1="51.40" y1="428.15" x2="54.20" y2="428.15" stroke="#000" stroke-width="1.2"/>
<line x1="333.80" y1="428.15" x2="337.00" y2="428.15" stroke="#000" stroke-width="1.2"/>
<line x1="51.40" y1="426.01" x2="54.20" y2="426.01" stroke="#000" stroke-width="1.2"/>
<line x1="333.80" y1="426.01" x2="337.00" y2="426.01" stroke="#000" stroke-width="1.2"/>
<line x1="51.40" y1="424.15" x2="54.20" y2="424.15" stroke="#000" stroke-width="1.2"/>
<line x1="333.80" y1="424.15" x2="337.00" y2="424.15" stroke="#000" stroke-width="1.2"/>
<line x1="51.40" y1="422.51" x2="54.20" y2="422.51" stroke="#000" stroke-width="1.2"/>
<line x1="333.80" y1="422.51" x2="337.00" y2="422.51" stroke="#000" stroke-width="1.2"/>
<line x1="51.40" y1="411.42" x2="54.20" y2="411.42" stroke="#000" stroke-width="1.2"/>
<line x1="333.80" y1="411.42" x2="337.00" y2="411.42" stroke="#000" stroke-width="1.2"/>
<line x1="51.40" y1="405.78" x2="54.20" y2="405.78" stroke="#000" stroke-width="1.2"/>
<line x1="333.80" y1="405.78" x2="337.00" y2="405.78" stroke="#000" stroke-width="1.2"/>
<line x1="51.40" y1="401.78" x2="54.20" y2="401.78" stroke="#000" stroke-width="1.2"/>
<line x1="333.80" y1="401.78" x2="337.00" y2="401.78" stroke="#000" stroke-width="1.2"/>
<line x1="51.40" y1="398.68" x2="54.20" y2="398.68" stroke="#000" stroke-width="1.2"/>
<line x1="333.80" y1="398.68" x2="337.00" y2="398.68" stroke="#000" stroke-width="1.2"/>
<text transform="translate(46.30,519.97) scale(0.9,1)" font-size="8.17" text-anchor="end">0.01</text>
<text transform="translate(46.30,487.97) scale(0.9,1)" font-size="8.17" text-anchor="end">0.10</text>
<text transform="translate(46.30,455.97) scale(0.9,1)" font-size="8.17" text-anchor="end">1.00</text>
<text transform="translate(46.30,423.97) scale(0.9,1)" font-size="8.17" text-anchor="end">10.00</text>
<line x1="81.80" y1="517.05" x2="81.80" y2="519.85" stroke="#000" stroke-width="1.15"/>
<line x1="107.03" y1="517.05" x2="107.03" y2="519.85" stroke="#000" stroke-width="1.15"/>
<line x1="132.26" y1="517.05" x2="132.26" y2="519.85" stroke="#000" stroke-width="1.15"/>
<line x1="157.49" y1="517.05" x2="157.49" y2="519.85" stroke="#000" stroke-width="1.15"/>
<line x1="182.72" y1="517.05" x2="182.72" y2="519.85" stroke="#000" stroke-width="1.15"/>
<line x1="207.95" y1="517.05" x2="207.95" y2="519.85" stroke="#000" stroke-width="1.15"/>
<line x1="258.41" y1="517.05" x2="258.41" y2="519.85" stroke="#000" stroke-width="1.15"/>
<line x1="283.64" y1="517.05" x2="283.64" y2="519.85" stroke="#000" stroke-width="1.15"/>
<line x1="308.87" y1="517.05" x2="308.87" y2="519.85" stroke="#000" stroke-width="1.15"/>
<line x1="81.80" y1="466.30" x2="81.80" y2="462.40" stroke="#000" stroke-width="0.8"/>
<line x1="78.90" y1="462.40" x2="84.70" y2="462.40" stroke="#000" stroke-width="0.95"/>
<rect x="76.35" y="466.30" width="10.90" height="50.75" fill="#008000" stroke="#000" stroke-width="0.7"/>
<line x1="107.03" y1="438.10" x2="107.03" y2="436.40" stroke="#000" stroke-width="0.8"/>
<line x1="104.13" y1="436.40" x2="109.93" y2="436.40" stroke="#000" stroke-width="0.95"/>
<rect x="101.58" y="438.10" width="10.90" height="78.95" fill="#008000" stroke="#000" stroke-width="0.7"/>
<line x1="132.26" y1="501.40" x2="132.26" y2="485.30" stroke="#000" stroke-width="0.8"/>
<line x1="129.36" y1="485.30" x2="135.16" y2="485.30" stroke="#000" stroke-width="0.95"/>
<rect x="126.81" y="501.40" width="10.90" height="15.65" fill="#008000" stroke="#000" stroke-width="0.7"/>
<line x1="157.49" y1="481.30" x2="157.49" y2="479.50" stroke="#000" stroke-width="0.8"/>
<line x1="154.59" y1="479.50" x2="160.39" y2="479.50" stroke="#000" stroke-width="0.95"/>
<rect x="152.04" y="481.30" width="10.90" height="35.75" fill="#008000" stroke="#000" stroke-width="0.7"/>
<line x1="182.72" y1="491.20" x2="182.72" y2="489.10" stroke="#000" stroke-width="0.8"/>
<line x1="179.82" y1="489.10" x2="185.62" y2="489.10" stroke="#000" stroke-width="0.95"/>
<rect x="177.27" y="491.20" width="10.90" height="25.85" fill="#008000" stroke="#000" stroke-width="0.7"/>
<line x1="207.95" y1="482.40" x2="207.95" y2="479.20" stroke="#000" stroke-width="0.8"/>
<line x1="205.05" y1="479.20" x2="210.85" y2="479.20" stroke="#000" stroke-width="0.95"/>
<rect x="202.50" y="482.40" width="10.90" height="34.65" fill="#008000" stroke="#000" stroke-width="0.7"/>
<line x1="258.41" y1="403.10" x2="258.41" y2="398.70" stroke="#000" stroke-width="0.8"/>
<line x1="255.51" y1="398.70" x2="261.31" y2="398.70" stroke="#000" stroke-width="0.95"/>
<rect x="252.96" y="403.10" width="10.90" height="113.95" fill="#008000" stroke="#000" stroke-width="0.7"/>
<line x1="283.64" y1="463.50" x2="283.64" y2="460.30" stroke="#000" stroke-width="0.8"/>
<line x1="280.74" y1="460.30" x2="286.54" y2="460.30" stroke="#000" stroke-width="0.95"/>
<rect x="278.19" y="463.50" width="10.90" height="53.55" fill="#008000" stroke="#000" stroke-width="0.7"/>
<line x1="308.87" y1="459.40" x2="308.87" y2="455.60" stroke="#000" stroke-width="0.8"/>
<line x1="305.97" y1="455.60" x2="311.77" y2="455.60" stroke="#000" stroke-width="0.95"/>
<rect x="303.42" y="459.40" width="10.90" height="57.65" fill="#008000" stroke="#000" stroke-width="0.7"/>
<text x="61.30" y="410.40" font-size="12.6" text-anchor="start">D</text>
<text transform="translate(18.40,455.40) rotate(-90)" font-size="9.0" text-anchor="middle">Intracellular STXs (fg/<tspan font-style="italic">sxtA</tspan> copy)</text>
<text transform="translate(83.60,528.85) rotate(-30)" font-size="9.1" text-anchor="end" style="stroke-width:0.12px">21 June</text>
<text transform="translate(109.73,528.85) rotate(-30)" font-size="9.1" text-anchor="end" style="stroke-width:0.12px">7 July</text>
<text transform="translate(134.96,528.85) rotate(-30)" font-size="9.1" text-anchor="end" style="stroke-width:0.12px">28 July</text>
<text transform="translate(157.49,528.85) rotate(-30)" font-size="9.1" text-anchor="end" style="stroke-width:0.12px">17 Aug</text>
<text transform="translate(184.52,528.85) rotate(-30)" font-size="9.1" text-anchor="end" style="stroke-width:0.12px">15 Sep</text>
<text transform="translate(209.75,528.85) rotate(-30)" font-size="9.1" text-anchor="end" style="stroke-width:0.12px">11 Oct</text>
<text transform="translate(260.21,528.85) rotate(-30)" font-size="9.1" text-anchor="end" style="stroke-width:0.12px">6 June</text>
<text transform="translate(286.34,528.85) rotate(-30)" font-size="9.1" text-anchor="end" style="stroke-width:0.12px">4 July</text>
<text transform="translate(310.67,528.85) rotate(-30)" font-size="9.1" text-anchor="end" style="stroke-width:0.12px">13 Sep</text>
</g>
</svg>
</body></html>
